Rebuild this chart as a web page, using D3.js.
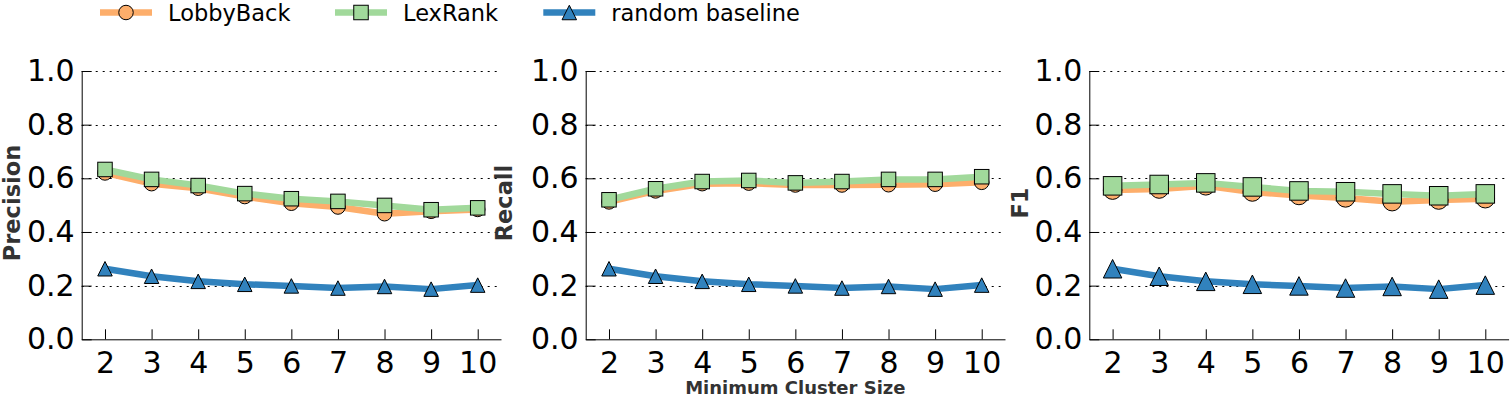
<!DOCTYPE html>
<html>
<head>
<meta charset="utf-8">
<script src="https://cdn.jsdelivr.net/npm/d3@7"></script>
<style>
  body { margin: 0; background: #fff; }
  svg { display: block; font-family: "DejaVu Sans", sans-serif; }
</style>
</head>
<body>
<div id="chart"></div>
<script>
// data
const clusterSizes = [2, 3, 4, 5, 6, 7, 8, 9, 10];
const yTickValues = [0.0, 0.2, 0.4, 0.6, 0.8, 1.0];
const seriesNames = ["LobbyBack", "LexRank", "random baseline"];
const metricNames = ["Precision", "Recall", "F1"];

const lobbyPrecision = [0.620, 0.580, 0.563, 0.532, 0.507, 0.493, 0.468, 0.477, 0.484];
const lexPrecision   = [0.633, 0.596, 0.573, 0.543, 0.524, 0.514, 0.499, 0.483, 0.490];
const randPrecision  = [0.263, 0.235, 0.216, 0.205, 0.199, 0.191, 0.197, 0.187, 0.202];

const lobbyRecall = [0.512, 0.553, 0.580, 0.582, 0.575, 0.575, 0.576, 0.578, 0.585];
const lexRecall   = [0.520, 0.561, 0.588, 0.592, 0.583, 0.588, 0.596, 0.596, 0.606];
const randRecall  = [0.263, 0.235, 0.216, 0.205, 0.199, 0.191, 0.197, 0.187, 0.202];

const lobbyF1 = [0.556, 0.560, 0.572, 0.549, 0.536, 0.527, 0.513, 0.519, 0.524];
const lexF1   = [0.572, 0.577, 0.583, 0.568, 0.553, 0.550, 0.542, 0.535, 0.542];
const randF1  = [0.263, 0.235, 0.216, 0.205, 0.199, 0.191, 0.197, 0.187, 0.202];

const colors = ["#fdae6b", "#a1d99b", "#3182bd"];
const shapes = ["circle", "square", "triangle"];

function init() {
    const w = 1512, h = 398;
    const top = 71, bottom = 339.3, pw = 419.3;

    const panels = [
        { left: 81.7,   label: 61.7, ms: 14.5, values: [lobbyPrecision, lexPrecision, randPrecision] },
        { left: 585.7,  label: 74,   ms: 14.5, values: [lobbyRecall, lexRecall, randRecall] },
        { left: 1089.3, label: 61,   ms: 18.5, values: [lobbyF1, lexF1, randF1] }
    ];

    const svg = d3.select("#chart")
        .append("svg")
        .attr("width", w)
        .attr("height", h)
        .attr("viewBox", [0, 0, w, h]);

    function marker(g, shape, ms, color) {
        const s = ms / 2;
        let m;
        if (shape === "circle") {
            m = g.append("circle").attr("r", s);
        } else if (shape === "square") {
            m = g.append("rect").attr("x", -s).attr("y", -s).attr("width", ms).attr("height", ms);
        } else {
            m = g.append("path").attr("d", `M0,${-s}L${-s},${s}L${s},${s}Z`);
        }
        m.attr("fill", color).attr("stroke", "#000").attr("stroke-width", 1);
        return m;
    }

    panels.forEach((p, pi) => {
        const x = d3.scaleLinear().domain([1.5, 10.5]).range([p.left, p.left + pw]);
        const y = d3.scaleLinear().domain([0, 1]).range([bottom, top]);

        // dotted horizontal grid
        svg.append("g")
            .selectAll("line")
            .data(yTickValues.filter(d => d > 0))
            .join("line")
            .attr("x1", p.left)
            .attr("x2", p.left + pw)
            .attr("y1", d => Math.round(y(d)) + 0.5)
            .attr("y2", d => Math.round(y(d)) + 0.5)
            .attr("stroke", "#000")
            .attr("stroke-width", 1.2)
            .attr("stroke-dasharray", "2,5");

        // axes with inward ticks
        const gx = svg.append("g")
            .attr("transform", `translate(0,${bottom})`)
            .call(d3.axisBottom(x).tickValues(clusterSizes).tickSize(-10).tickSizeOuter(0).tickPadding(12.5));
        const gy = svg.append("g")
            .attr("transform", `translate(${p.left},0)`)
            .call(d3.axisLeft(y).tickValues(yTickValues).tickFormat(d3.format(".1f"))
                .tickSize(-10).tickSizeOuter(0).tickPadding(7));
        [gx, gy].forEach(g => {
            g.attr("font-family", null).attr("font-size", null);
            g.selectAll("text").attr("font-size", 30).attr("fill", "#000");
            g.selectAll("line, path").attr("stroke", "#000");
        });

        // y label
        svg.append("text")
            .attr("transform", `translate(${p.left - p.label},203) rotate(-90)`)
            .attr("text-anchor", "middle")
            .attr("font-weight", "bold")
            .attr("font-size", 22.5)
            .attr("fill", "#333")
            .text(metricNames[pi]);

        // series
        p.values.forEach((vals, si) => {
            const pts = clusterSizes.map((c, i) => [x(c), y(vals[i])]);
            svg.append("path")
                .attr("d", d3.line()(pts))
                .attr("fill", "none")
                .attr("stroke", colors[si])
                .attr("stroke-width", 6.5)
                .attr("stroke-linejoin", "round");
            pts.forEach(pt => {
                const g = svg.append("g").attr("transform", `translate(${pt[0]},${pt[1]})`);
                marker(g, shapes[si], p.ms, colors[si]);
            });
        });
    });

    // x label under the middle panel
    svg.append("text")
        .attr("x", panels[1].left + pw / 2)
        .attr("y", 394)
        .attr("text-anchor", "middle")
        .attr("font-weight", "bold")
        .attr("font-size", 18)
        .attr("fill", "#333")
        .text("Minimum Cluster Size");

    // legend
    const legendX = [100, 335, 543.3];
    seriesNames.forEach((name, i) => {
        const item = svg.append("g").attr("transform", `translate(${legendX[i]},12.5)`);
        item.append("line")
            .attr("x1", 0).attr("x2", 52)
            .attr("stroke", colors[i])
            .attr("stroke-width", 6.5);
        const mg = item.append("g").attr("transform", "translate(26,0)");
        marker(mg, shapes[i], 14.5, colors[i]);
        item.append("text")
            .attr("x", 68)
            .attr("y", 8.5)
            .attr("font-size", 22.5)
            .attr("fill", "#000")
            .text(name);
    });
}

window.onload = init;
</script>
</body>
</html>
